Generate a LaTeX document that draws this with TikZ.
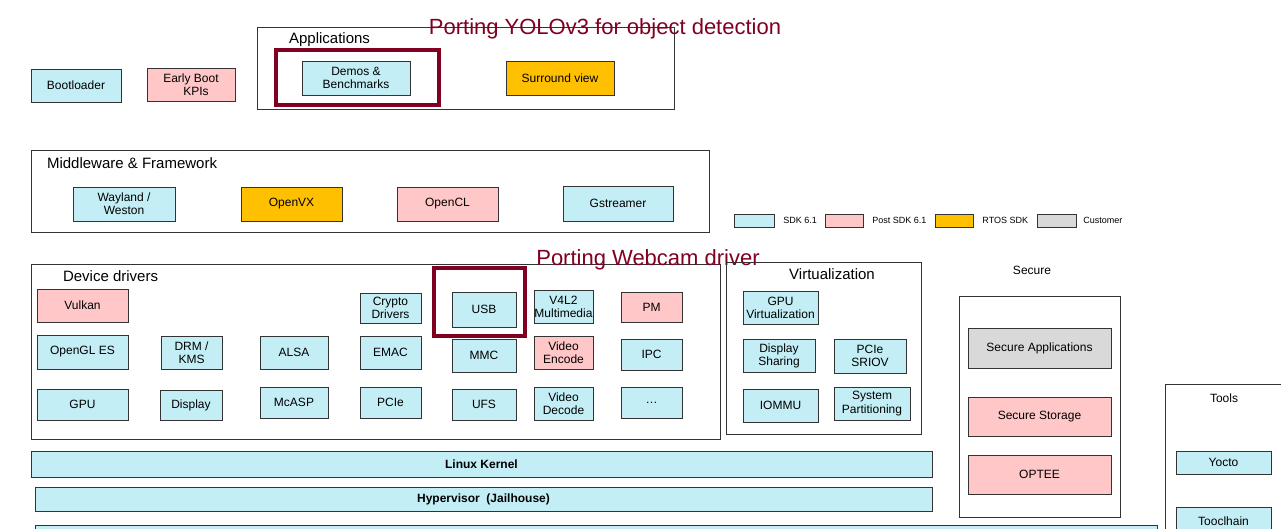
\documentclass[tikz,border=0pt]{standalone}
\usepackage{fontspec}
\setmainfont{Liberation Sans}
\usetikzlibrary{positioning}
\definecolor{sdkblue}{HTML}{C3EEF5}
\definecolor{postpink}{HTML}{FFC7C7}
\definecolor{rtosorange}{HTML}{FFC000}
\definecolor{custgray}{HTML}{D9D9D9}
\definecolor{portred}{HTML}{7F0020}
% box from corner (x1,y1) to (x2,y2), in pixels
\newcommand{\blk}[7]{%
  \node [#6, minimum width={(#4-#2)*0.5pt}, minimum height={(#5-#3)*0.5pt}]
    (#1) at ({(#2+#4)/2},{(#3+#5)/2}) {#7};}
\begin{document}
\begin{tikzpicture}[
    x=0.5pt, y=-0.5pt,
    font=\fontsize{6}{6.6}\selectfont,
    blk/.style={
		rectangle,
		draw=black!80,
		inner sep=0pt,
		align=center
	},
	sdk/.style={blk, fill=sdkblue},
	post/.style={blk, fill=postpink},
	rtos/.style={blk, fill=rtosorange},
	cust/.style={blk, fill=custgray},
	frame/.style={
		rectangle,
		draw=black!80,
		inner sep=0pt
	},
	porting/.style={
		rectangle,
		draw=portred,
		line width=2pt,
		inner sep=0pt
	},
	title/.style={
	  font=\fontsize{7.5}{8}\selectfont,
	  anchor=west
    },
	note/.style={
	  font=\fontsize{11}{12}\selectfont,
	  text=portred
    },
	legend/.style={
	  font=\fontsize{4.5}{5}\selectfont,
	  anchor=west
    }
  ]
\useasboundingbox (0,0) rectangle (1281,529);

% // Top row
\blk{boot}{31}{69}{121}{102}{sdk}{Bootloader}
\blk{ebk}{147}{68}{235}{101}{post}{Early Boot\\\ \ \ KPIs}
\blk{apps}{257}{27}{674}{109}{frame}{}
\node [title] (appsl) at (282,40) {Applications};
\blk{demos}{302}{61}{410}{95}{sdk}{Demos \&\\Benchmarks}
\blk{surround}{506}{61}{614}{95}{rtos}{Surround view}
\blk{yolo}{276}{50}{439}{105}{porting}{}
\node [note] (yolol) at (605,29) {Porting YOLOv3 for object detection};

% // Middleware
\blk{mw}{31}{150}{709}{232}{frame}{}
\node [title] (mwl) at (40,163) {Middleware \& Framework};
\blk{wayland}{73}{187}{175}{221}{sdk}{Wayland /\\Weston}
\blk{openvx}{241}{187}{342}{221}{rtos}{OpenVX}
\blk{opencl}{397}{187}{498}{221}{post}{OpenCL}
\blk{gst}{563}{186}{673}{221}{sdk}{Gstreamer}

% // Legend
\blk{lg1}{734}{214}{774}{227}{sdk}{}
\node [legend, right=1pt of lg1] (lg1t) {SDK 6.1};
\blk{lg2}{825}{214}{863}{227}{post}{}
\node [legend, right=1pt of lg2] (lg2t) {Post SDK 6.1};
\blk{lg3}{935}{214}{973}{227}{rtos}{}
\node [legend, right=1pt of lg3] (lg3t) {RTOS SDK};
\blk{lg4}{1037}{214}{1076}{227}{cust}{}
\node [legend, right=0pt of lg4] (lg4t) {Customer};

% // Device drivers
\blk{dd}{31}{264}{720}{439}{frame}{}
\node [title] (ddl) at (56,276) {Device drivers};
\node [note] (webcaml) at (648,260) {Porting Webcam driver};
\blk{vulkan}{37}{289}{128}{322}{post}{Vulkan}
\blk{crypto}{360}{293}{421}{323}{sdk}{Crypto\\Drivers}
\blk{usb}{452}{292}{516}{327}{sdk}{USB}
\blk{webcam}{434}{268}{525}{336}{porting}{}
\blk{v4l2}{534}{290}{593}{323}{sdk}{V4L2\\Multimedia}
\blk{pm}{621}{292}{682}{322}{post}{PM}
\blk{ogl}{37}{335}{128}{369}{sdk}{OpenGL ES}
\blk{drm}{161}{336}{222}{369}{sdk}{DRM /\\KMS}
\blk{alsa}{260}{336}{328}{369}{sdk}{ALSA}
\blk{emac}{360}{336}{421}{369}{sdk}{EMAC}
\blk{mmc}{452}{339}{516}{372}{sdk}{MMC}
\blk{venc}{534}{336}{593}{369}{post}{Video\\Encode}
\blk{ipc}{621}{339}{682}{370}{sdk}{IPC}
\blk{gpu}{37}{389}{128}{420}{sdk}{GPU}
\blk{disp}{160}{390}{222}{420}{sdk}{Display}
\blk{mcasp}{260}{387}{328}{418}{sdk}{McASP}
\blk{pcie}{360}{387}{421}{418}{sdk}{PCIe}
\blk{ufs}{452}{389}{516}{420}{sdk}{UFS}
\blk{vdec}{534}{387}{593}{420}{sdk}{Video\\Decode}
\blk{more}{621}{387}{682}{418}{sdk}{\dots}

% // Virtualization
\blk{virt}{726}{262}{921}{434}{frame}{}
\node [title, anchor=center] (virtl) at (832,274) {Virtualization};
\blk{gpuv}{743}{291}{818}{324}{sdk}{GPU\\Virtualization}
\blk{dshare}{743}{339}{815}{372}{sdk}{Display\\Sharing}
\blk{sriov}{834}{339}{906}{373}{sdk}{PCIe\\SRIOV}
\blk{iommu}{743}{389}{818}{422}{sdk}{IOMMU}
\blk{syspart}{834}{387}{910}{420}{sdk}{System\\Partitioning}

% // Secure
\node [anchor=center] (secl) at (1032,270) {Secure};
\blk{sec}{959}{296}{1120}{517}{frame}{}
\blk{secapp}{968}{328}{1111}{368}{cust}{Secure Applications}
\blk{secsto}{968}{397}{1111}{436}{post}{Secure Storage}
\blk{optee}{968}{455}{1111}{494}{post}{OPTEE}

% // Tools
\blk{tools}{1165}{384}{1290}{540}{frame}{}
\node [anchor=center] (toolsl) at (1224,398) {Tools};
\blk{yocto}{1176}{451}{1271}{474}{sdk}{Yocto}
\blk{tchain}{1176}{507}{1271}{540}{sdk}{\raisebox{2.5pt}{Tooclhain}}

% // Base layers
\blk{kernel}{31}{451}{932}{477}{sdk}{\bfseries Linux Kernel}
\blk{hyp}{35}{487}{932}{511}{sdk}{\bfseries Hypervisor\ \ (Jailhouse)}
\blk{base}{35}{525}{1157}{545}{sdk}{}
\end{tikzpicture}
\end{document}
